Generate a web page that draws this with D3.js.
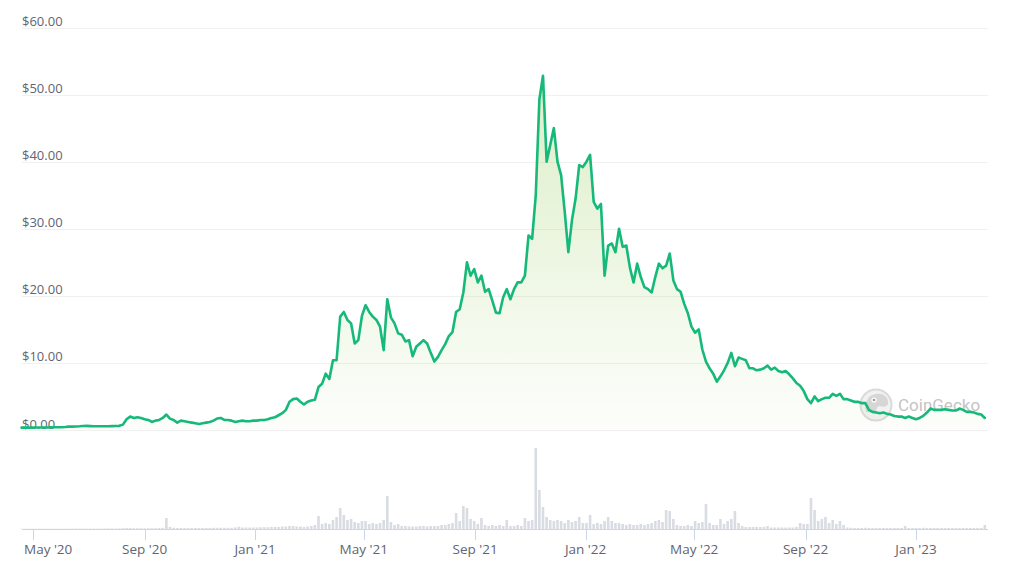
<!DOCTYPE html>
<html><head><meta charset="utf-8">
<script src="https://cdn.jsdelivr.net/npm/d3@7"></script>
<style>
html,body{margin:0;padding:0;background:#fff;}
svg{display:block;font-family:"Open Sans","Noto Sans",Arial,sans-serif;}
</style></head>
<body><svg id="c" width="1024" height="562"></svg>
<script>
// ---- data (4-day sampling, starting 18 Apr 2020) ----
const startDate = Date.UTC(2020, 3, 18);
const stepDays = 4;
const prices = [
0.35,0.35,0.35,0.36,0.37,0.37,0.38,0.38,0.39,0.40,
0.40,0.42,0.45,0.50,0.50,0.52,0.55,0.60,0.62,0.58,
0.55,0.55,0.56,0.55,0.57,0.58,0.60,0.62,0.80,1.60,
2.0,1.8,1.9,1.8,1.6,1.5,1.2,1.4,1.5,1.8,
2.3,1.7,1.5,1.1,1.4,1.3,1.2,1.1,1.0,0.9,
1.0,1.1,1.2,1.4,1.7,1.8,1.5,1.5,1.4,1.2,
1.3,1.4,1.3,1.3,1.4,1.4,1.5,1.5,1.6,1.8,
1.9,2.2,2.5,3.0,4.2,4.6,4.7,4.2,3.8,4.2,
4.4,4.5,6.4,6.9,8.4,7.6,10.4,10.4,16.9,17.6,
16.4,15.9,12.9,13.4,17.0,18.6,17.6,16.9,16.4,15.4,
11.9,19.5,16.8,15.9,14.4,14.2,13.2,13.4,11.0,12.4,
12.9,13.4,12.9,11.5,10.2,10.9,11.9,12.8,14.0,14.6,
17.6,18.0,20.5,25.0,23.0,24.0,22.0,23.0,20.6,21.0,
19.3,17.5,17.4,19.8,21.0,19.5,21.0,22.0,22.0,23.0,
29.0,28.5,35.0,49.3,52.8,40.0,42.5,45.0,40.0,38.0,
32.5,26.5,31.3,34.5,39.5,39.2,40.0,41.0,34.0,33.0,
33.7,23.0,27.5,27.8,26.5,30.0,27.3,27.5,24.2,22.0,
24.8,22.8,21.3,21.0,20.5,22.8,24.8,24.1,24.5,26.3,
22.3,21.0,20.6,18.8,17.4,15.4,14.5,15.0,12.0,10.2,
9.2,8.4,7.2,8.0,8.9,10.0,11.5,9.5,10.8,10.6,
10.4,9.2,9.2,8.9,9.0,9.2,9.6,9.0,9.3,8.8,
8.6,8.8,8.3,7.7,7.0,6.6,5.8,4.6,4.0,5.0,
4.3,4.6,4.8,4.8,5.4,5.1,5.4,4.6,4.6,4.4,
4.2,4.2,4.0,4.0,3.0,2.7,2.6,2.5,2.6,2.4,
2.3,2.1,2.0,2.0,1.8,2.0,1.8,1.6,1.8,2.1,
2.6,3.2,3.0,3.0,3.0,3.1,3.0,2.9,2.9,3.2,
3.0,2.7,2.7,2.6,2.4,2.3,1.8
];
const volumes = [
0.3,0.3,0.3,0.3,0.3,0.3,0.3,0.3,0.3,0.3,
0.3,0.3,0.3,0.3,0.4,0.4,0.4,0.4,0.4,0.4,
0.4,0.4,0.4,0.5,0.5,0.5,0.5,0.6,0.8,1.0,
1.0,0.8,0.8,0.7,0.7,0.7,0.8,0.8,0.9,1.2,
11,2,1.2,1,1,1,1,1,1,1,
1,1,1,1.2,1.2,1.2,1.2,1.2,1.2,1.5,
2.2,1.5,1.5,1.5,1.5,1.5,1.8,1.8,1.8,2,
2,2,2.5,2.5,3,3,2.5,2.5,2,2.5,
3,4,13,5,6,5,9,12,21,14,
9,10,7,6,8,8,5,6,5,6,
9,33,7,4,5,3,3,2.5,2.5,2.5,
3,3,2.5,3,3,3,4,4,5,6,
16,8,23,21,10,8,5,11,4,3,
4,3,4,3,9,3,3,4,3,11,
8,9,81,39,22,12,9,8,9,8,
6,9,7,8,12,6,6,14,5,6,
5,8,12,8,6,6,5,4,5,4,
4,5,4,5,6,8,9,7,19,18,
10,4,3,3,4,3,8,6,7,25,
6,4,4,10,5,8,10,18,6,3,
2,2,2,2,2,2,3,1.5,1.5,1.5,
1.5,1.5,1.5,1.5,2,6,5,5,31,19,
8,10,12,6,9,5,8,4,1.5,1.2,
1,1,1,1.2,1,1,1,1,1,1,
1,1,1,1,3,1,1,1,1,1.2,
1,1,1,1,1,1,1,1,1,1,
1,1,1,1,1,1,4
];
const priceTicks = [0, 10, 20, 30, 40, 50, 60];
const priceTickLabels = ["$0.00","$10.00","$20.00","$30.00","$40.00","$50.00","$60.00"];
const monthTicks = ["2020-05","2020-09","2021-01","2021-05","2021-09","2022-01","2022-05","2022-09","2023-01"];

// ---- build ----
const data = prices.map((p, i) => ({
  date: d3.utcDay.offset(new Date(startDate), i * stepDays),
  price: p,
  vol: volumes[i] || 0
}));

const svg = d3.select("#c");
const x = d3.scaleUtc()
  .domain([new Date(Date.UTC(2020,4,1)), new Date(Date.UTC(2023,0,1))])
  .range([33.3, 916]);
const y = d3.scaleLinear().domain([0, 60]).range([430, 27.5]);
const yv = d3.scaleLinear().domain([0, 81]).range([529, 448]);

const gridX0 = 22, gridX1 = 988;

// gradient
const defs = svg.append("defs");
const grad = defs.append("linearGradient").attr("id","fillg")
  .attr("gradientUnits","userSpaceOnUse").attr("x1",0).attr("x2",0)
  .attr("y1", y(53)).attr("y2", y(0));
grad.append("stop").attr("offset","0%").attr("stop-color","#8dc647").attr("stop-opacity",0.3);
grad.append("stop").attr("offset","100%").attr("stop-color","#8dc647").attr("stop-opacity",0.02);

// gridlines
svg.append("g").selectAll("line").data(priceTicks).join("line")
  .attr("x1", gridX0).attr("x2", gridX1)
  .attr("y1", d => Math.round(y(d)) + 0.5).attr("y2", d => Math.round(y(d)) + 0.5)
  .attr("stroke", "#f0f0f0").attr("stroke-width", 1);

// y labels
svg.append("g").selectAll("text").data(priceTicks).join("text")
  .attr("x", gridX0).attr("y", d => y(d) - 1.5)
  .attr("font-size", 13).attr("fill", "#5f6573")
  .text((d, i) => priceTickLabels[i]);

// watermark
const wm = svg.append("g");
wm.append("circle").attr("cx", 876).attr("cy", 405).attr("r", 15.5)
  .attr("fill", "#f1f1f1").attr("stroke", "#dadada").attr("stroke-width", 2);
wm.append("path")
  .attr("d", "M866,412 C864,402 868,395 876,394 C884,393 889,398 888,404 C887,407 883,407 880,406 C877,406 876,409 876,413 Z")
  .attr("fill", "#d6d6d6");
wm.append("circle").attr("cx", 874).attr("cy", 400).attr("r", 2.6).attr("fill", "#fff");
wm.append("circle").attr("cx", 874).attr("cy", 400).attr("r", 1.3).attr("fill", "#9a9a9a");
wm.append("text").attr("x", 898).attr("y", 410.5)
  .attr("font-size", 17).attr("fill", "#c4c4c4")
  .attr("font-family", "Roboto, 'Open Sans', Arial, sans-serif")
  .text("CoinGecko");

// area + line
const area = d3.area().x(d => x(d.date)).y0(y(0)).y1(d => y(d.price));
const line = d3.line().x(d => x(d.date)).y(d => y(d.price));
svg.append("path").datum(data).attr("d", area).attr("fill", "url(#fillg)");

// volume bars
svg.append("g").selectAll("rect").data(data).join("rect")
  .attr("x", d => x(d.date) - 1.3).attr("width", 2.6)
  .attr("y", d => yv(d.vol)).attr("height", d => yv(0) - yv(d.vol))
  .attr("fill", "#d9dce3");

svg.append("path").datum(data).attr("d", line)
  .attr("fill", "none").attr("stroke", "#16b979").attr("stroke-width", 2.6)
  .attr("stroke-linejoin", "round").attr("stroke-linecap", "round");

// x axis
const tickDates = monthTicks.map(s => d3.utcParse("%Y-%m")(s));
const xAxis = svg.append("g");
xAxis.append("line").attr("x1", gridX0).attr("x2", gridX1)
  .attr("y1", 529.5).attr("y2", 529.5).attr("stroke", "#ccd6eb");
xAxis.selectAll("line.t").data(tickDates).join("line").attr("class","t")
  .attr("x1", d => Math.round(x(d)) + 0.5).attr("x2", d => Math.round(x(d)) + 0.5)
  .attr("y1", 529.5).attr("y2", 540).attr("stroke", "#ccd6eb");
xAxis.selectAll("text").data(tickDates).join("text")
  .attr("x", d => x(d)).attr("y", 554)
  .attr("text-anchor", "middle").attr("font-size", 13.5).attr("fill", "#5f6573")
  .text(d => d3.utcFormat("%b '%y")(d))
  .each(function(d) {
    // keep labels inside the plot edges (justify overflow)
    const w = this.getComputedTextLength();
    const cx = x(d);
    if (cx - w / 2 < 24) d3.select(this).attr("x", 24 + w / 2);
  });
</script>
</body></html>
